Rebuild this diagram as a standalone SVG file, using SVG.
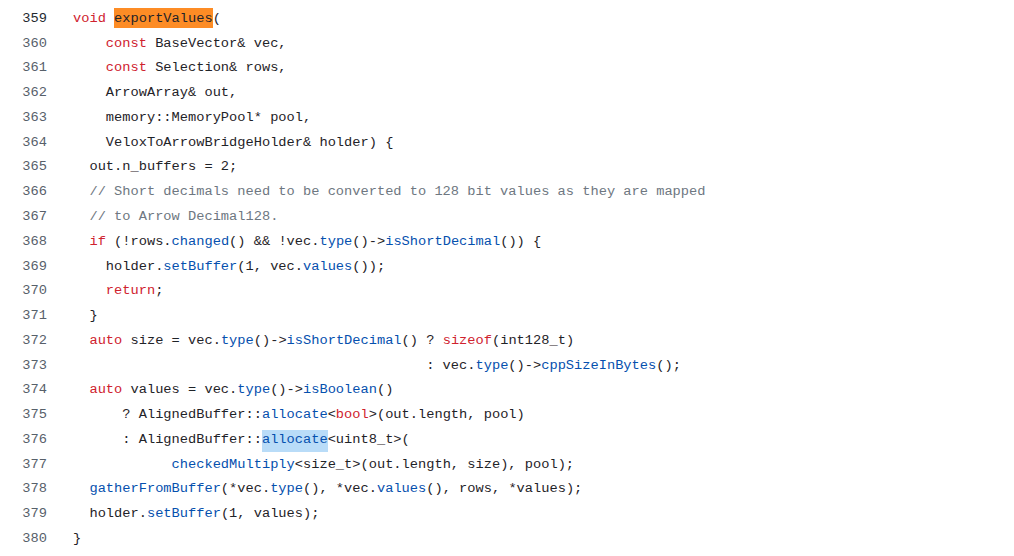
<svg xmlns="http://www.w3.org/2000/svg" width="1014" height="556" viewBox="0 0 1014 556">
<style>
text{font-family:"Liberation Mono","DejaVu Sans Mono",monospace;font-size:13.7px;fill:#1f2328;white-space:pre}
.n{fill:#57606a;text-anchor:end}
.k{fill:#cf222e}.f{fill:#0550ae}.c{fill:#6e7781}
</style>
<rect width="1014" height="556" fill="#fff"/>
<rect x="114" y="8" width="99" height="20" fill="#fd8c25"/>
<rect x="262" y="430" width="66" height="22" fill="#b9dcf8"/>
<g id="numbers">
<text class="n" x="47" y="22" fill="#24292f" style="fill:#24292f">359</text>
<text class="n" x="47" y="47">360</text><text class="n" x="47" y="71">361</text><text class="n" x="47" y="96">362</text>
<text class="n" x="47" y="121">363</text><text class="n" x="47" y="146">364</text><text class="n" x="47" y="170">365</text>
<text class="n" x="47" y="195">366</text><text class="n" x="47" y="220">367</text><text class="n" x="47" y="245">368</text>
<text class="n" x="47" y="270">369</text><text class="n" x="47" y="294">370</text><text class="n" x="47" y="319">371</text>
<text class="n" x="47" y="344">372</text><text class="n" x="47" y="369">373</text><text class="n" x="47" y="393">374</text>
<text class="n" x="47" y="418">375</text><text class="n" x="47" y="443">376</text><text class="n" x="47" y="468">377</text>
<text class="n" x="47" y="492">378</text><text class="n" x="47" y="517">379</text><text class="n" x="47" y="542">380</text>
</g>
<g id="code" xml:space="preserve">
<text x="73" y="22"><tspan class="k">void</tspan> exportValues(</text>
<text x="73" y="47">    <tspan class="k">const</tspan> BaseVector&amp; vec,</text>
<text x="73" y="71">    <tspan class="k">const</tspan> Selection&amp; rows,</text>
<text x="73" y="96">    ArrowArray&amp; out,</text>
<text x="73" y="121">    memory::MemoryPool* pool,</text>
<text x="73" y="146">    VeloxToArrowBridgeHolder&amp; holder) {</text>
<text x="73" y="170">  out.n_buffers = 2;</text>
<text x="73" y="195" class="c">  // Short decimals need to be converted to 128 bit values as they are mapped</text>
<text x="73" y="220" class="c">  // to Arrow Decimal128.</text>
<text x="73" y="245">  <tspan class="k">if</tspan> (!rows.<tspan class="f">changed</tspan>() &amp;&amp; !vec.<tspan class="f">type</tspan>()-&gt;<tspan class="f">isShortDecimal</tspan>()) {</text>
<text x="73" y="270">    holder.<tspan class="f">setBuffer</tspan>(1, vec.<tspan class="f">values</tspan>());</text>
<text x="73" y="294">    <tspan class="k">return</tspan>;</text>
<text x="73" y="319">  }</text>
<text x="73" y="344">  <tspan class="k">auto</tspan> size = vec.<tspan class="f">type</tspan>()-&gt;<tspan class="f">isShortDecimal</tspan>() ? <tspan class="k">sizeof</tspan>(int128_t)</text>
<text x="73" y="369">                                           : vec.<tspan class="f">type</tspan>()-&gt;<tspan class="f">cppSizeInBytes</tspan>();</text>
<text x="73" y="393">  <tspan class="k">auto</tspan> values = vec.<tspan class="f">type</tspan>()-&gt;<tspan class="f">isBoolean</tspan>()</text>
<text x="73" y="418">      ? AlignedBuffer::<tspan class="f">allocate</tspan>&lt;<tspan class="k">bool</tspan>&gt;(out.length, pool)</text>
<text x="73" y="443">      : AlignedBuffer::<tspan class="f">allocate</tspan>&lt;uint8_t&gt;(</text>
<text x="73" y="468">            <tspan class="f">checkedMultiply</tspan>&lt;size_t&gt;(out.length, size), pool);</text>
<text x="73" y="492">  <tspan class="f">gatherFromBuffer</tspan>(*vec.<tspan class="f">type</tspan>(), *vec.<tspan class="f">values</tspan>(), rows, *values);</text>
<text x="73" y="517">  holder.<tspan class="f">setBuffer</tspan>(1, values);</text>
<text x="73" y="542">}</text>
</g>
</svg>
